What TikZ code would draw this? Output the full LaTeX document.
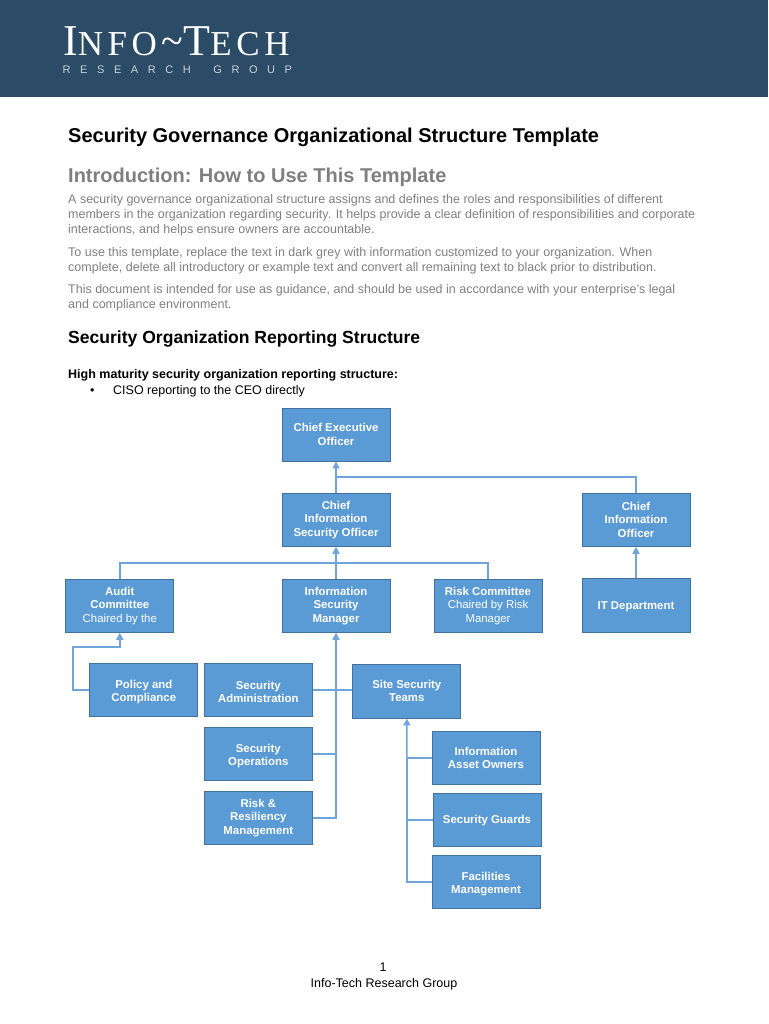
\documentclass[tikz,border=0pt]{standalone}
\usepackage{fontspec}
\setmainfont{Liberation Sans}
\newfontfamily\logoserif[LetterSpace=13]{Liberation Serif}
\newfontfamily\logosans[LetterSpace=87]{Liberation Sans}
\usetikzlibrary{positioning,arrows.meta,calc}
\definecolor{bannerblue}{HTML}{2B4B66}
\definecolor{boxblue}{HTML}{5B9BD5}
\definecolor{boxedge}{HTML}{41719C}
\definecolor{linkblue}{HTML}{6FA5DA}
\definecolor{introgrey}{HTML}{7F7F7F}
\newcommand{\logocaps}[2]{{\fontsize{44}{44}\selectfont #1}{\fontsize{35}{35}\selectfont #2}}
\newcommand{\dropline}{\rule{0pt}{12pt}}
\tikzset{
  orgbox/.style={draw=boxedge,line width=0.9pt,fill=boxblue,text=white,align=center,minimum width=108pt,minimum height=53pt,inner sep=1pt,font=\fontsize{11.4}{13.5}\selectfont\bfseries},
  lowered/.style={execute at begin node={\rule{0pt}{10pt}}},
  link/.style={draw=linkblue,line width=1.5pt},
  uplink/.style={link,->},
  title/.style={anchor=base west,inner sep=0pt,font=\fontsize{20}{24}\selectfont\bfseries},
  subhead/.style={anchor=base west,inner sep=0pt,font=\fontsize{17.55}{22}\selectfont\bfseries},
  para/.style={anchor=base west,inner sep=0pt,align=left,text=introgrey,font=\fontsize{12.5}{15}\selectfont},
  plain/.style={inner sep=0pt,font=\fontsize{12.5}{15}\selectfont}
}
\begin{document}
\begin{tikzpicture}[x=1pt,y=-1pt,>={Triangle[length=7pt,width=7pt]}]
\useasboundingbox (0,0) rectangle (768,1024);
\fill[bannerblue] (0,0) rectangle (768,97);
\node[anchor=base west,inner sep=0pt,text=white,font=\logoserif] (logo) at (63,55.5) {\logocaps{I}{NFO}\hspace{5pt}{\fontsize{40}{40}\selectfont\raisebox{1pt}{\char"007E}}\logocaps{T}{ECH}};
\node[anchor=base west,inner sep=0pt,text=white!75!bannerblue,font=\logosans\fontsize{11}{12}\selectfont] (logosub) at (62.5,74) {RESEARCH\hspace{10pt} GROUP};
\node[title] (doctitle) at (68,143) {Security Governance Organizational Structure Template};
\node[title,text=introgrey] (introhead) at (68,183) {Introduction: How to Use This Template};
\node[para] (intro) at (68,233.5) {A security governance organizational structure assigns and defines the roles and responsibilities of different\\members in the organization regarding security. It helps provide a clear definition of responsibilities and corporate\\interactions, and helps ensure owners are accountable.};
\node[para] (usage) at (68,271) {To use this template, replace the text in dark grey with information customized to your organization. When\\complete, delete all introductory or example text and convert all remaining text to black prior to distribution.};
\node[para] (guide) at (68,308) {This document is intended for use as guidance, and should be used in accordance with your enterprise's legal\\and compliance environment.};
\node[subhead] (orghead) at (68,343) {Security Organization Reporting Structure};
\node[plain,anchor=base west,font=\fontsize{12.5}{15}\selectfont\bfseries] (maturity) at (68,378) {High maturity security organization reporting structure:};
\node[plain,anchor=base west] (bullet) at (90,394) {\textbullet};
\node[plain,anchor=base west] (bullettext) at (113,394) {CISO reporting to the CEO directly};
\node[orgbox] (ceo) at (336,434.5) {Chief Executive\\Officer};
\node[orgbox] (ciso) at (336,519.8) {Chief\\Information\\Security Officer};
\node[orgbox] (cio) at (636,519.8) {Chief\\Information\\Officer};
\node[orgbox] (audit) at (119.8,605.8) {Audit\\Committee\\{\normalfont Chaired by the}};
\node[orgbox] (ism) at (336,605.8) {Information\\Security\\Manager};
\node[orgbox] (risk) at (488,605.8) {Risk Committee\\{\normalfont Chaired by Risk}\\{\normalfont Manager}};
\node[orgbox,lowered,minimum height=54pt] (itdept) at (636,605.2) {IT Department};
\node[orgbox] (policy) at (143.8,690) {\dropline Policy and\\Compliance};
\node[orgbox] (secadm) at (258.3,690) {\dropline Security\\Administration};
\node[orgbox,minimum height=54pt] (site) at (406.8,691) {Site Security\\Teams};
\node[orgbox] (secops) at (258.3,754) {\dropline Security\\Operations};
\node[orgbox] (resil) at (258.3,818) {Risk \&\\Resiliency\\Management};
\node[orgbox] (assets) at (486,758) {Information\\Asset Owners};
\node[orgbox,lowered] (guards) at (487,820) {Security Guards};
\node[orgbox] (facil) at (486,882) {\dropline Facilities\\Management};
\coordinate (ceojoin) at (336,477);
\coordinate (cisojoin) at (336,563);
\coordinate (auditbend) at (73,647);
\coordinate (ismjoin) at (336,690);
\coordinate (sitejoin) at (407,758);
\draw[uplink] (ciso.north) -- (ceo.south);
\draw[link] (cio.north) |- (ceojoin);
\draw[uplink] (ism.north) -- (ciso.south);
\draw[link] (audit.north) |- (cisojoin);
\draw[link] (risk.north) |- (cisojoin);
\draw[uplink] (itdept.north) -- (cio.south);
\draw[uplink] (policy.west) -| (auditbend) -| (audit.south);
\draw[link] (secadm.east) -- (site.west |- secadm.east);
\draw[uplink] (ismjoin) -- (ism.south);
\draw[link] (ismjoin) |- (secops.east);
\draw[link] (ismjoin) |- (resil.east);
\draw[uplink] (sitejoin) -- (site.south);
\draw[link] (assets.west) -| (sitejoin);
\draw[link] (guards.west) -| (sitejoin);
\draw[link] (facil.west) -| (sitejoin);
\node[plain,anchor=base] (pagenum) at (383,971) {1};
\node[plain,anchor=base] (footer) at (384,987) {Info-Tech Research Group};
\end{tikzpicture}
\end{document}
